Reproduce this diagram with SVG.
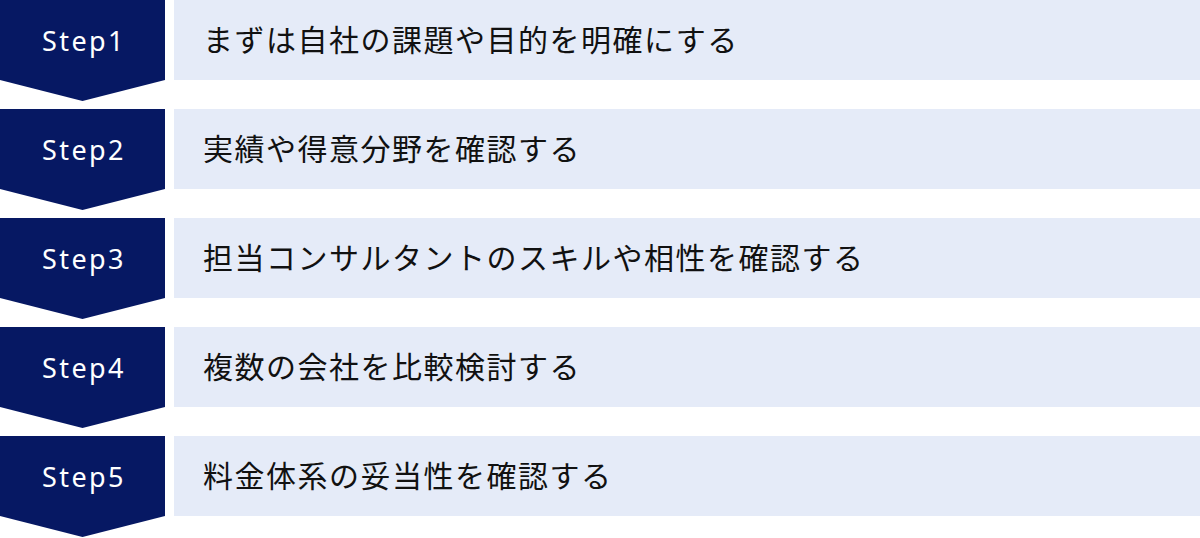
<svg xmlns="http://www.w3.org/2000/svg" width="1200" height="538" viewBox="0 0 1200 538">
<style>
.badge{fill:#061863}
.box{fill:#E5EBF8}
.st{font-family:"Noto Sans","Open Sans",sans-serif;font-size:27px;fill:#FFFFFF;text-anchor:middle;letter-spacing:2.4px}
.tx{font-family:"Noto Sans CJK JP","Noto Sans",sans-serif;font-size:30px;fill:#111111;letter-spacing:1.5px}
</style>
<defs>
<path id="chev" d="M0 0H165V80L82.5 101L0 80Z"/>
</defs>
<g id="connectors"></g>
<g id="step1" transform="translate(0,0)">
<use href="#chev" class="badge"/>
<rect class="box" x="174" y="0" width="1026" height="80"/>
<text class="st" x="84" y="51">Step1</text>
<text class="tx" x="203" y="51">まずは自社の課題や目的を明確にする</text>
</g>
<g id="step2" transform="translate(0,109)">
<use href="#chev" class="badge"/>
<rect class="box" x="174" y="0" width="1026" height="80"/>
<text class="st" x="84" y="51">Step2</text>
<text class="tx" x="203" y="51">実績や得意分野を確認する</text>
</g>
<g id="step3" transform="translate(0,218)">
<use href="#chev" class="badge"/>
<rect class="box" x="174" y="0" width="1026" height="80"/>
<text class="st" x="84" y="51">Step3</text>
<text class="tx" x="203" y="51">担当コンサルタントのスキルや相性を確認する</text>
</g>
<g id="step4" transform="translate(0,327)">
<use href="#chev" class="badge"/>
<rect class="box" x="174" y="0" width="1026" height="80"/>
<text class="st" x="84" y="51">Step4</text>
<text class="tx" x="203" y="51">複数の会社を比較検討する</text>
</g>
<g id="step5" transform="translate(0,436)">
<use href="#chev" class="badge"/>
<rect class="box" x="174" y="0" width="1026" height="80"/>
<text class="st" x="84" y="51">Step5</text>
<text class="tx" x="203" y="51">料金体系の妥当性を確認する</text>
</g>
</svg>
